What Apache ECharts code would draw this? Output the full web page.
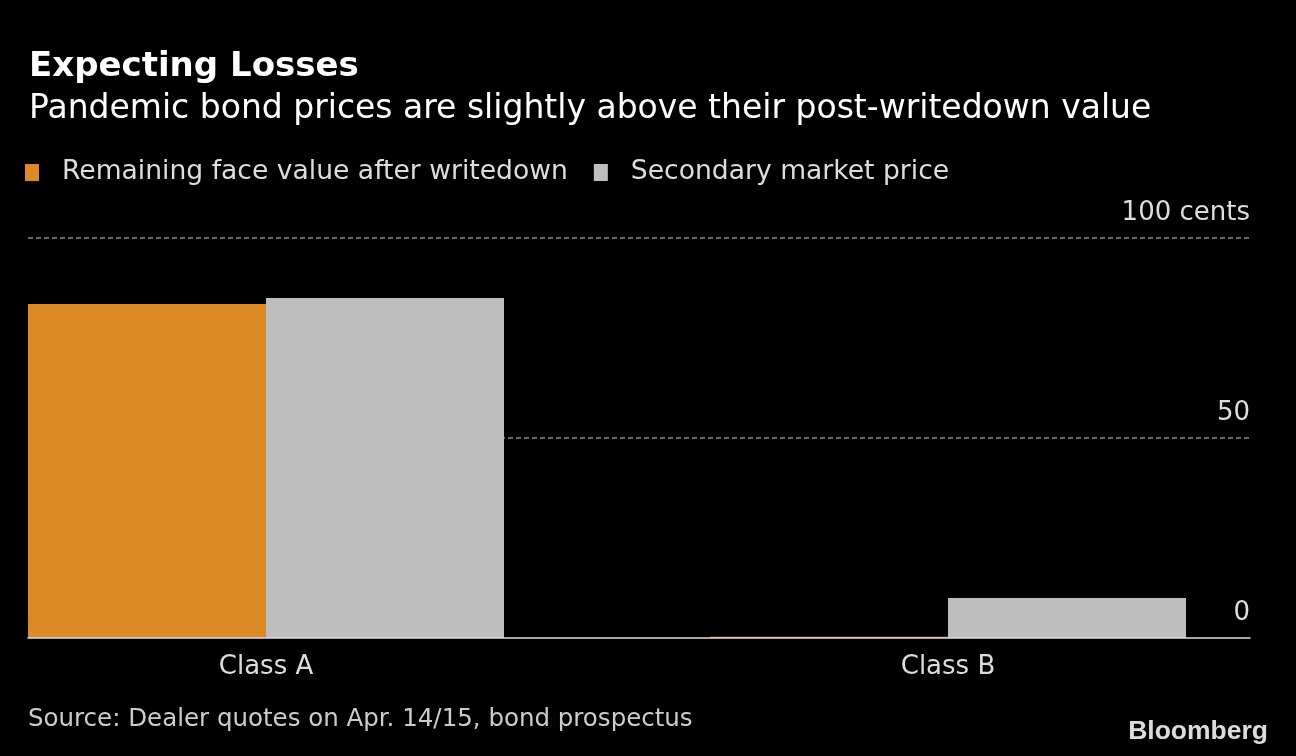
<!DOCTYPE html>
<html>
<head>
<meta charset="utf-8">
<script src="https://cdn.jsdelivr.net/npm/echarts@6/dist/echarts.min.js"></script>
<style>
  html, body { margin: 0; padding: 0; background: #000; }
  #chart { width: 1296px; height: 756px; }
</style>
</head>
<body>
<div id="chart"></div>
<script>
var FONT = '"DejaVu Sans", sans-serif';

var categories = ['Class A', 'Class B'];
var faceValue = [83.5, 0.3];   // remaining face value after writedown
var marketPrice = [85, 10];    // secondary market price
var yTicks = { 0: '0', 50: '50', 100: '100 cents' };

// bars sit on a value axis so the groups can hug the left edge like the original
function pairs(values) {
  return values.map(function (v, i) { return [i, v]; });
}

var chart = echarts.init(document.getElementById('chart'));

var option = {
  backgroundColor: '#000',
  animation: false,
  textStyle: { fontFamily: FONT },
  title: [
    {
      text: 'Expecting Losses',
      left: 29, top: 50, padding: 0,
      textStyle: { color: '#fff', fontSize: 34, fontWeight: 'bold', fontFamily: FONT }
    },
    {
      text: 'Pandemic bond prices are slightly above their post-writedown value',
      left: 29, top: 93, padding: 0,
      textStyle: { color: '#fff', fontSize: 33, fontWeight: 'normal', fontFamily: FONT }
    },
    {
      text: 'Source: Dealer quotes on Apr. 14/15, bond prospectus',
      left: 28, top: 707, padding: 0,
      textStyle: { color: '#ccc', fontSize: 24.5, fontWeight: 'normal', fontFamily: FONT }
    },
    {
      text: 'Bloomberg',
      right: 28, top: 718, padding: 0,
      textStyle: { color: '#ddd', fontSize: 26.5, fontWeight: 'bold', fontFamily: '"Liberation Sans Narrow", sans-serif' }
    }
  ],
  legend: {
    left: 20, top: 154,
    itemWidth: 14, itemHeight: 17,
    itemGap: 26,
    icon: 'rect',
    textStyle: { color: '#ddd', fontSize: 26.6, fontFamily: FONT, padding: [0, 0, 0, 18] },
    data: ['Remaining face value after writedown', 'Secondary market price']
  },
  grid: { left: 28, right: 46, top: 238, bottom: 118 },
  xAxis: {
    type: 'value', min: -0.34897, max: 1.44282, z: 3,
    axisLine: { show: true, onZero: true, lineStyle: { color: '#ddd', width: 1.5 } },
    axisTick: { show: false },
    axisLabel: {
      customValues: [0, 1],
      color: '#ddd', fontSize: 26, margin: 16, fontFamily: FONT,
      formatter: function (v) { return categories[Math.round(v)]; }
    },
    splitLine: { show: false }
  },
  yAxis: {
    type: 'value', min: 0, max: 100, interval: 50, position: 'right',
    axisLine: { show: false }, axisTick: { show: false },
    axisLabel: {
      inside: true, margin: 0, align: 'right', verticalAlign: 'bottom',
      padding: [0, 0, 12, 0],
      color: '#ddd', fontSize: 26, fontFamily: FONT,
      formatter: function (v) { return yTicks[v]; }
    },
    splitLine: { show: true, showMinLine: false, lineStyle: { color: '#8a8a8a', type: [5, 3], width: 1.5 } }
  },
  series: [
    {
      name: 'Remaining face value after writedown', type: 'bar',
      barWidth: 238, barGap: '0%',
      itemStyle: { color: '#db8a26' },
      data: pairs(faceValue)
    },
    {
      name: 'Secondary market price', type: 'bar',
      barWidth: 238, barGap: '0%',
      itemStyle: { color: '#bebebe' },
      data: pairs(marketPrice)
    }
  ]
};

chart.setOption(option);
</script>
</body>
</html>
